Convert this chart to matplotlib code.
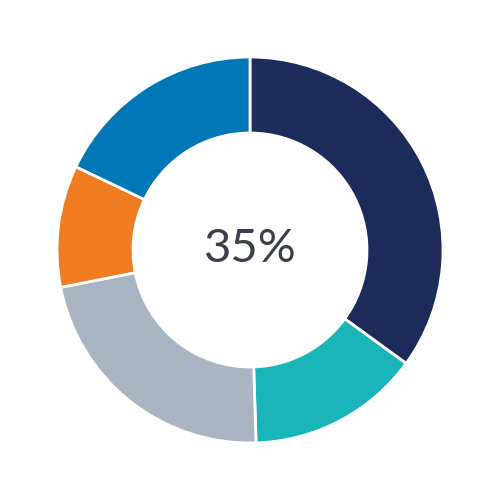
import matplotlib
matplotlib.use("Agg")
import matplotlib.pyplot as plt

# 数据：从12点方向顺时针
labels = ["A", "B", "C", "D", "E"]
values = [35, 14.5, 22.4, 10.2, 17.9]
colors = ["#1c2b5a", "#1ab5b8", "#a9b4c2", "#f07c22", "#0077b6"]
center_text = "35%"

fig = plt.figure(figsize=(5, 5), dpi=100)
ax = fig.add_axes([0, 0, 1, 1])
ax.pie(values, colors=colors, startangle=90, counterclock=False, radius=1.93,
       wedgeprops=dict(width=0.76, edgecolor="white", linewidth=2))
ax.text(0, 0.01, center_text, ha="center", va="center", fontsize=34,
        family="Lato", fontweight="normal", color="#3a3f4a")
ax.set_xlim(-2.5, 2.5)
ax.set_ylim(-2.5, 2.5)
ax.set_aspect("equal")
ax.axis("off")

plt.savefig("out.png", dpi=100, facecolor="white")
